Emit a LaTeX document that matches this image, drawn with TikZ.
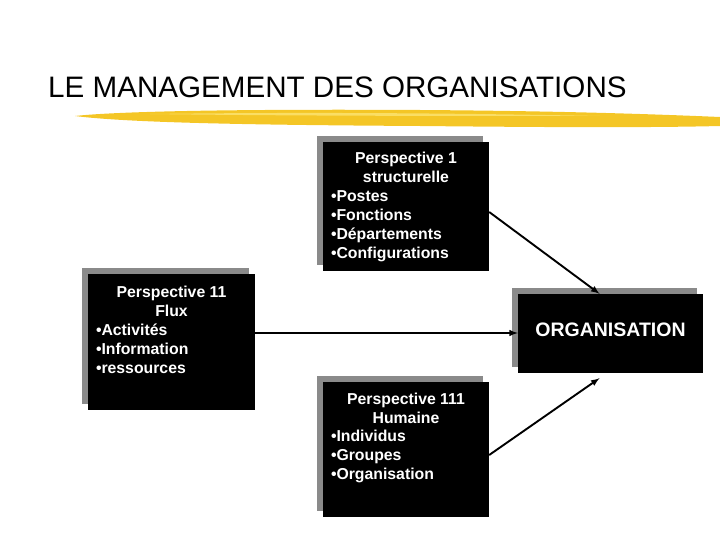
\documentclass[tikz,border=0pt]{standalone}
\usepackage{fontspec}
\setmainfont{Liberation Sans}
\usetikzlibrary{shadows}
\usetikzlibrary{arrows}

\definecolor{brush}{RGB}{244,198,38}
\definecolor{brushlight}{RGB}{250,222,100}
\definecolor{shade}{RGB}{138,138,138}

\tikzset{
  box/.style={fill=black, draw=none, inner sep=0pt,
    drop shadow={shadow xshift=-6pt, shadow yshift=6pt, fill=shade, opacity=1}},
  head/.style={text=white, font=\bfseries\fontsize{15.8}{19}\selectfont,
    align=center, anchor=north, inner sep=0pt},
  items/.style={text=white, font=\bfseries\fontsize{15.8}{19}\selectfont,
    align=left, anchor=north west, inner sep=0pt},
  link/.style={-latex, line width=1.9pt}
}

\begin{document}
\begin{tikzpicture}[x=1pt, y=-1pt]
\useasboundingbox (0,0) rectangle (720,540);

% title and brush stroke
\node[anchor=base west, inner sep=0pt, font=\fontsize{29.6}{32}\selectfont] (title) at (48,98)
  {LE MANAGEMENT DES ORGANISATIONS};
\fill[brush] (75,116) .. controls (120,111) and (250,109) .. (420,110)
  .. controls (560,111) and (650,114) .. (720,117) -- (720,126)
  .. controls (640,128) and (520,127) .. (420,126)
  .. controls (260,125) and (130,123) .. (75,116) -- cycle;
\fill[brushlight] (150,114) .. controls (300,112) and (450,113) .. (600,116)
  .. controls (450,116) and (300,116) .. (150,114) -- cycle;

% boxes
\node[box, minimum width=166pt, minimum height=129pt] (p1) at (406,206.5) {};
\node[box, minimum width=167pt, minimum height=136pt] (p2) at (171.5,342) {};
\node[box, minimum width=166pt, minimum height=135pt] (p3) at (406,449.5) {};
\node[box, minimum width=185pt, minimum height=79pt, text=white, text depth=8pt,
  font=\bfseries\fontsize{19.5}{22}\selectfont] (org) at (610.5,333.5) {ORGANISATION};

% box texts
\node[head, below=10.5pt] (p1head) at (p1.north) {Perspective 1\\structurelle};
\node[items, xshift=8pt, yshift=-49pt] (p1list) at (p1.north west)
  {\textbullet Postes\\\textbullet Fonctions\\\textbullet Départements\\\textbullet Configurations};

\node[head, below=12pt] (p2head) at (p2.north) {Perspective 11\\Flux};
\node[items, xshift=8pt, yshift=-50pt] (p2list) at (p2.north west)
  {\textbullet Activités\\\textbullet Information\\\textbullet ressources};

\node[head, below=11pt] (p3head) at (p3.north) {Perspective 111\\Humaine};
\node[items, xshift=8pt, yshift=-48pt] (p3list) at (p3.north west)
  {\textbullet Individus\\\textbullet Groupes\\\textbullet Organisation};

% arrows
\draw[link] ([yshift=-5.5pt]p1.east) -- ([xshift=-11pt]org.north);
\draw[link] ([yshift=9pt]p2.east) -- ([yshift=0.5pt]org.west);
\draw[link] ([yshift=-5.5pt]p3.east) -- ([xshift=-11pt,yshift=-5pt]org.south);
\end{tikzpicture}
\end{document}
